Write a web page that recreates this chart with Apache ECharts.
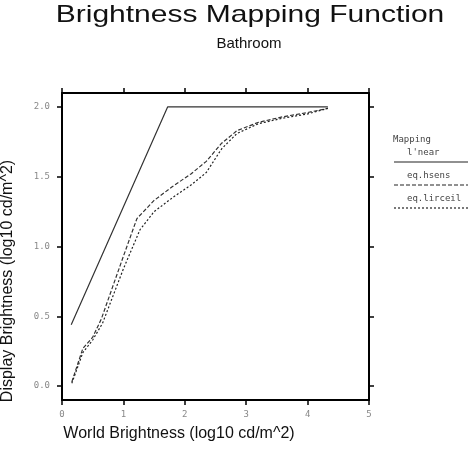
<!DOCTYPE html>
<html>
<head>
    <meta charset="utf-8" />
    <title>Brightness Mapping Function</title>
    <script src="https://cdn.jsdelivr.net/npm/echarts@6/dist/echarts.min.js"></script>
    <style>
        html, body { margin: 0; padding: 0; background: #fff; }
        #chart { width: 474px; height: 450px; }
    </style>
</head>
<body>
<div id="chart"></div>
<script type="text/javascript">
    // data
    var xTicks = [0, 1, 2, 3, 4, 5];
    var yTicks = [0, 0.5, 1, 1.5, 2];
    var linear = [[0.15, 0.44], [1.72, 2.0], [4.33, 2.0]];
    var eqHsens = [[0.16, 0.03], [0.34, 0.27], [0.5, 0.35], [0.64, 0.48], [1.0, 0.93], [1.22, 1.2],
        [1.5, 1.33], [1.8, 1.43], [2.1, 1.52], [2.35, 1.61], [2.6, 1.74], [2.85, 1.83],
        [3.2, 1.89], [3.6, 1.93], [4.0, 1.96], [4.33, 1.99]];
    var eqLinceil = [[0.16, 0.02], [0.34, 0.24], [0.5, 0.33], [0.66, 0.45], [1.0, 0.84], [1.27, 1.12],
        [1.5, 1.25], [1.8, 1.35], [2.1, 1.44], [2.35, 1.53], [2.6, 1.7], [2.85, 1.81],
        [3.2, 1.88], [3.6, 1.92], [4.0, 1.95], [4.33, 1.99]];
    var seriesNames = ['l\'near', 'eq.hsens', 'eq.lirceil'];

    var axisLine = { show: true, onZero: false, lineStyle: { color: '#000', width: 2 } };
    var tickStyle = { show: true, length: 5, lineStyle: { color: '#000', width: 1.5 } };
    var labelFont = { color: '#888', fontFamily: 'DejaVu Sans Mono', fontSize: 9 };
    var sans = '"Liberation Sans"';

    function xAxis(pos, labels) {
        return {
            type: 'value', position: pos, min: 0, max: 5, interval: 1,
            axisLine: axisLine, splitLine: { show: false },
            axisTick: Object.assign({ customValues: xTicks }, tickStyle),
            axisLabel: Object.assign({ show: labels, margin: 10, customValues: xTicks }, labelFont)
        };
    }
    function yAxis(pos, labels) {
        return {
            type: 'value', position: pos, min: -0.1, max: 2.1,
            axisLine: axisLine, splitLine: { show: false },
            axisTick: Object.assign({ customValues: yTicks }, tickStyle),
            axisLabel: Object.assign({
                show: labels, margin: 12, customValues: yTicks,
                formatter: function (v) { return v.toFixed(1); }
            }, labelFont)
        };
    }

    function legendItem(y, text, type) {
        return [
            { type: 'text', x: 407, y: y - 9,
              style: { text: text, fill: '#444', font: '9px "DejaVu Sans Mono"', verticalAlign: 'middle' } },
            { type: 'line', shape: { x1: 394, y1: y, x2: 468, y2: y },
              style: { stroke: '#222', lineWidth: 1.2, lineDash: type } }
        ];
    }

    var myChart = echarts.init(document.getElementById('chart'));
    var option = {
        animation: false,
        grid: { left: 62, right: 105, top: 93, bottom: 50 },
        xAxis: [xAxis('bottom', true), xAxis('top', false)],
        yAxis: [yAxis('left', true), yAxis('right', false)],
        series: [
            { name: seriesNames[0], type: 'line', data: linear, showSymbol: false,
              lineStyle: { color: '#333', width: 1.2 } },
            { name: seriesNames[1], type: 'line', data: eqHsens, showSymbol: false,
              lineStyle: { color: '#333', width: 1.2, type: [4, 2] } },
            { name: seriesNames[2], type: 'line', data: eqLinceil, showSymbol: false,
              lineStyle: { color: '#222', width: 1.2, type: [2, 2] } }
        ],
        graphic: [
            { type: 'text', x: 250, y: 15, scaleX: 1.25,
              style: { text: 'Brightness Mapping Function', fill: '#111', font: '24px ' + sans,
                       align: 'center', verticalAlign: 'middle' } },
            { type: 'text', x: 249, y: 44,
              style: { text: 'Bathroom', fill: '#111', font: '15px ' + sans,
                       align: 'center', verticalAlign: 'middle' } },
            { type: 'text', x: 179, y: 434,
              style: { text: 'World Brightness (log10 cd/m^2)', fill: '#111', font: '16px ' + sans,
                       align: 'center', verticalAlign: 'middle' } },
            { type: 'text', x: 8, y: 281, rotation: Math.PI / 2,
              style: { text: 'Display Brightness (log10 cd/m^2)', fill: '#111', font: '16px ' + sans,
                       align: 'center', verticalAlign: 'middle' } },
            { type: 'text', x: 393, y: 140,
              style: { text: 'Mapping', fill: '#444', font: '9px "DejaVu Sans Mono"', verticalAlign: 'middle' } }
        ].concat(legendItem(162, seriesNames[0], null))
         .concat(legendItem(185, seriesNames[1], [4, 2]))
         .concat(legendItem(208, seriesNames[2], [2, 2]))
    };
    myChart.setOption(option);
</script>
</body>
</html>
